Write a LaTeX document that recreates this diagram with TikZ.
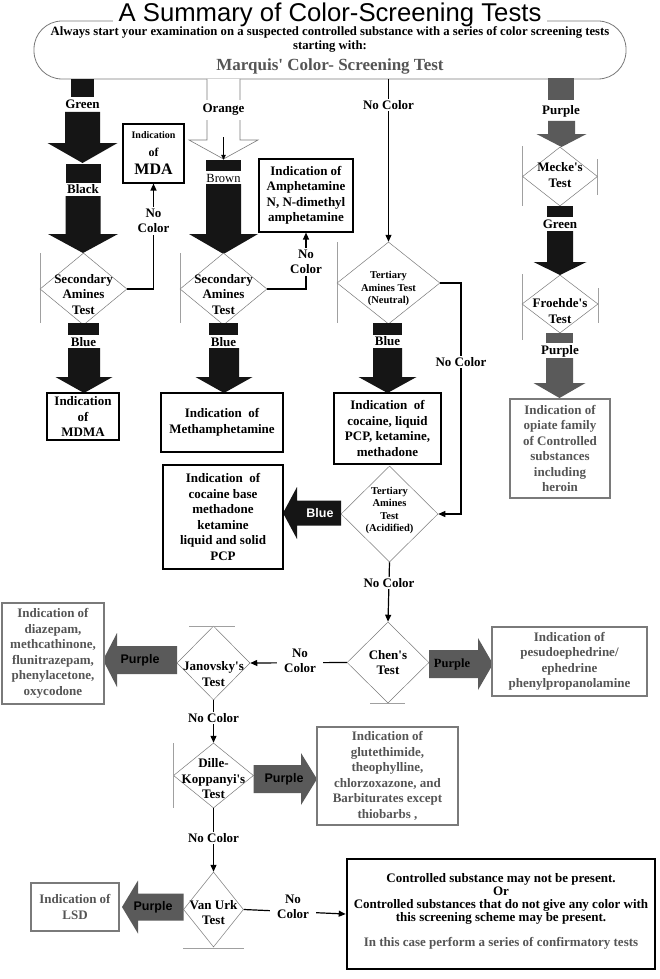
\documentclass[tikz,border=0pt]{standalone}
\usepackage{fontspec}
\setmainfont{Liberation Serif}
\newfontfamily\arialfont{Liberation Sans}
\newfontfamily\apfont{Liberation Serif}
\newcommand\ap{{\apfont'}}
\usetikzlibrary{shapes.geometric,arrows.meta}
\definecolor{dk}{HTML}{151515}
\definecolor{pg}{HTML}{5A5A5A}
\definecolor{gt}{HTML}{555555}
\definecolor{ln}{HTML}{7A7A7A}
\definecolor{sd}{HTML}{A0A0A0}
% block arrow pointing down: style, x, ytop, yheadbase, ytip, half shaft, half head
\newcommand\blkdown[7]{\fill[#1] ({#2-#6},#3) -- ({#2+#6},#3) -- ({#2+#6},#4) -- ({#2+#7},#4) -- (#2,#5) -- ({#2-#7},#4) -- ({#2-#6},#4) -- cycle;}
% block arrow horizontal: style, y, xtail, xheadbase, xtip, half shaft, half head
\newcommand\blkh[7]{\fill[#1] (#3,{#2-#6}) -- (#4,{#2-#6}) -- (#4,{#2-#7}) -- (#5,#2) -- (#4,{#2+#7}) -- (#4,{#2+#6}) -- (#3,{#2+#6}) -- cycle;}
\begin{document}
\begin{tikzpicture}[x=1pt,y=-1pt,
  lbl/.style={font=\bfseries\fontsize{13}{14.5}\selectfont, inner sep=1.5pt, fill=white},
  bx/.style={draw, line width=1.1pt, align=center, inner sep=0pt, font=\bfseries\fontsize{13}{15.5}\selectfont},
  gbx/.style={bx, draw=ln, line width=1.3pt, text=gt},
  dia/.style={diamond, draw=ln, line width=0.5pt, inner sep=0pt, fill=white},
  dtx/.style={align=center, inner sep=0pt, font=\bfseries\fontsize{13}{15.5}\selectfont},
  dtxs/.style={align=center, inner sep=0pt, font=\bfseries\fontsize{10.5}{12.5}\selectfont},
  side/.style={draw=sd, line width=0.5pt},
  conn/.style={draw, line width=1.2pt, -{Triangle[length=7pt,width=6pt]}},
  sanslbl/.style={font=\arialfont\bfseries\fontsize{12.5}{14}\selectfont, inner sep=0pt}
]
\useasboundingbox (0,0) rectangle (660,979);
\fill[white] (0,0) rectangle (660,979);

% ---------- top ----------
\node[draw=ln, line width=0.8pt, rounded corners=28pt, minimum width=592pt, minimum height=58pt] (top) at (330,50) {};
\node[fill=white, inner xsep=6pt, inner ysep=0pt, text height=18.5pt, text depth=1.5pt, anchor=base, font=\arialfont\fontsize{25.7}{28}\selectfont] (title) at (330,21.5) {A Summary of Color-Screening Tests};
\node[font=\bfseries\fontsize{12.7}{14}\selectfont, inner sep=0pt] (intro1) at (330,32.5) {Always start your examination on a suspected controlled substance with a series of color screening tests};
\node[font=\bfseries\fontsize{12.7}{14}\selectfont, inner sep=0pt] (intro2) at (330,46) {starting with:};
\node[font=\bfseries\fontsize{17}{20}\selectfont, text=gt, inner sep=0pt] (marq) at (330,66) {Marquis\ap{} Color- Screening Test};

% ---------- column 1 ----------
\fill[dk] (71,79) rectangle (94,97);
\node[lbl] (lg1) at (82.5,104) {Green};
\blkdown{dk}{82.5}{112}{143}{163}{17.5}{35}
\fill[dk] (66,164) rectangle (101,183);
\node[lbl] (lb1) at (83,189) {Black};
\blkdown{dk}{83}{196}{234}{253}{17.5}{35}
\draw[side] (40,253) -- (40,323);
\node[dia, minimum width=87pt, minimum height=72pt] (d1) at (83.5,289) {};
\node[dtx] (t1) at (83.5,294.5) {Secondary\\Amines\\Test};
\node[bx, minimum width=61pt, minimum height=59pt] (mda) at (153.5,153.5) {};
\node[font=\bfseries\fontsize{10}{12}\selectfont, inner sep=0pt] (mda1) at (153.5,135) {Indication};
\node[font=\bfseries\fontsize{12}{14}\selectfont, inner sep=0pt] (mda2) at (153.5,152) {of};
\node[font=\bfseries\fontsize{16}{18}\selectfont, inner sep=0pt] (mda3) at (153.5,169.5) {MDA};
\draw[conn] (d1.east) -| (mda.south);
\node[lbl, align=center, inner ysep=2pt] (nc1) at (153.5,221) {No\\Color};
\fill[dk] (68,323) rectangle (99,335);
\node[lbl] (lbl1) at (83.5,342) {Blue};
\blkdown{dk}{84}{348}{377}{393}{16}{28.5}
\node[bx, minimum width=72pt, minimum height=47pt] (mdma) at (83,416.5) {Indication\\of\\MDMA};

% ---------- column 2 ----------
\draw[ln, line width=0.6pt, fill=white] (207,79) -- (207,140) -- (189,140) -- (223.5,159) -- (258,140) -- (240,140) -- (240,79);
\node[lbl, inner ysep=4pt] (lo) at (223.5,110) {Orange};
\coordinate (oa) at (223.5,137);
\node[fill=dk, minimum width=35pt, minimum height=11pt, inner sep=0pt] (br) at (223.5,165.5) {};
\draw[line width=0.8pt, -{Triangle[length=5pt,width=4.5pt]}] (oa) -- (br.north);
\node[font=\fontsize{12.5}{14}\selectfont, inner sep=1pt] (lbr) at (223.5,178) {Brown};
\blkdown{dk}{223.5}{184}{234}{254}{17.5}{34.5}
\draw[side] (180,253) -- (180,323);
\node[dia, minimum width=87pt, minimum height=72pt] (d2) at (223.5,289) {};
\node[dtx] (t2) at (223.5,294.5) {Secondary\\Amines\\Test};
\node[bx, minimum width=94pt, minimum height=73pt] (amph) at (306,195.5) {Indication of\\Amphetamine\\N, N-dimethyl\\amphetamine};
\draw[conn] (d2.east) -| (amph.south);
\node[lbl, align=center, inner ysep=2pt] (nc2) at (306,262) {No\\Color};
\fill[dk] (209,323) rectangle (238,335);
\node[lbl] (lbl2) at (223.5,342) {Blue};
\blkdown{dk}{224}{348}{377}{393}{15}{28.5}
\node[bx, minimum width=122pt, minimum height=59pt] (meth) at (222,422.5) {Indication\ \ of\\Methamphetamine};

% ---------- column 3 ----------
\draw[side] (337,242) -- (337,323);
\node[dia, minimum width=103pt, minimum height=82pt] (d3) at (388.5,283) {};
\node[dtxs] (t3) at (388.5,288.5) {Tertiary\\Amines Test\\(Neutral)};
\draw[conn] (d3.north |- top.south) -- (d3.north);
\node[lbl] (nc3) at (388.5,105) {No Color};
\fill[dk] (373,323) rectangle (402,335);
\node[lbl] (lbl3) at (387.5,341) {Blue};
\blkdown{dk}{387.5}{348}{377}{393}{14.5}{29}
\node[bx, minimum width=107pt, minimum height=71pt] (coc) at (387.5,428.5) {Indication\ \ of\\cocaine, liquid\\PCP, ketamine,\\methadone};
\node[dia, minimum width=97pt, minimum height=96pt] (d4) at (389.5,514) {};
\node[dtxs] (t4) at (389.5,510.5) {Tertiary\\Amines\\Test\\(Acidified)};
\coordinate (c3) at (461,283);
\draw[conn] (d3.east) -- (c3) |- (d4.east);
\node[lbl] (nc4) at (461,362) {No Color};
\blkh{dk}{513}{341}{297}{283}{12.5}{26}
\node[sanslbl, text=white] (lblue) at (320,513) {Blue};
\node[bx, minimum width=120pt, minimum height=104pt] (cocb) at (223,517) {Indication\ \ of\\cocaine base\\methadone\\ketamine\\liquid and solid\\PCP};

% ---------- Chen ----------
\node[dia, minimum width=82pt, minimum height=81pt] (d5) at (388,662.5) {};
\draw[side] (370,703) -- (405,703);
\node[dtx] (t5) at (388,662.5) {Chen\ap{}s\\Test};
\draw[conn] (d4.south) -- (d5.north);
\node[lbl] (nc5) at (389,583) {No Color};
\blkh{pg}{664}{429}{478}{493}{14}{26}
\node[font=\bfseries\fontsize{12.5}{14}\selectfont, inner sep=0pt] (lp5) at (452,664) {Purple};
\node[gbx, minimum width=155pt, minimum height=69pt] (pse) at (569.5,661.5) {Indication of\\pesudoephedrine/\\ephedrine\\phenylpropanolamine};

% ---------- Janovsky ----------
\node[dia, minimum width=73pt, minimum height=74pt] (d6) at (213.5,663) {};
\draw[side] (189,626) -- (235,626);
\node[dtx] (t6) at (213.5,674) {Janovsky\ap{}s\\Test};
\draw[conn] (d5.west) -- (d6.east);
\node[lbl, align=center, inner xsep=7pt] (nc6) at (300,661) {No\\Color};
\blkh{pg}{660}{177}{117}{103}{14}{27}
\node[sanslbl] (lp6) at (140,660) {Purple};
\node[gbx, minimum width=102pt, minimum height=101pt] (diaz) at (53,653.5) {Indication of\\diazepam,\\methcathinone,\\flunitrazepam,\\phenylacetone,\\oxycodone};

% ---------- Dille-Koppanyi ----------
\node[dia, minimum width=80pt, minimum height=65pt] (d7) at (213.5,775.5) {};
\draw[side] (173.5,743) -- (173.5,808);
\node[dtx] (t7) at (213.5,779) {Dille-\\Koppanyi\ap{}s\\Test};
\draw[conn] (d6.south) -- (d7.north);
\node[lbl] (nc7) at (213.5,718) {No Color};
\blkh{pg}{779}{253.5}{301}{317}{14}{26}
\node[sanslbl] (lp7) at (284,779) {Purple};
\node[gbx, minimum width=141pt, minimum height=98pt] (glu) at (387.5,776) {Indication of\\glutethimide,\\theophylline,\\chlorzoxazone, and\\Barbiturates except\\thiobarbs ,};

% ---------- Van Urk ----------
\node[dia, minimum width=60pt, minimum height=75pt] (d8) at (213.5,909.5) {};
\draw[side] (183,948) -- (244,948);
\node[dtx] (t8) at (213.5,912.5) {Van Urk\\Test};
\draw[conn] (d7.south) -- (d8.north);
\node[lbl] (nc8) at (213.5,838) {No Color};
\blkh{pg}{907}{183.5}{138}{122}{13.5}{26.5}
\node[sanslbl] (lp8) at (153,907) {Purple};
\node[gbx, minimum width=88pt, minimum height=48pt] (lsd) at (75,907) {Indication of\\LSD};
\node[draw, line width=2.6pt, minimum width=308pt, minimum height=110pt, inner sep=0pt] (fin) at (501,914) {};
\node[align=center, inner sep=0pt, font=\bfseries\fontsize{13}{13}\selectfont] (ftx) at (501,911) {Controlled substance may not be present.\\Or\\Controlled substances that do not give any color with\\this screening scheme may be present.\\[12pt]{\color{gt}In this case perform a series of confirmatory tests}};
\draw[conn] (d8.east) -- (fin.west);
\node[lbl, align=center, inner xsep=7pt] (nc9) at (293,907) {No\\Color};

% ---------- purple column ----------
\fill[pg] (548,78) rectangle (574,100);
\node[lbl] (lp1) at (561,111) {Purple};
\blkdown{pg}{561.5}{121}{134}{147}{13.5}{25}
\draw[side] (522,146) -- (522,206);
\draw[side] (597,159) -- (597,195);
\node[dia, minimum width=75pt, minimum height=59pt] (d9) at (560,176.5) {};
\node[dtx] (t9) at (560,175) {Mecke\ap{}s\\Test};
\fill[dk] (547,206) rectangle (573,217);
\node[lbl] (lg9) at (560,224) {Green};
\blkdown{dk}{560}{231}{262}{275}{13}{26.5}
\draw[side] (522,274) -- (522,340);
\draw[side] (598,288) -- (598,323);
\node[dia, minimum width=76pt, minimum height=58pt] (d10) at (560,304) {};
\node[dtx] (t10) at (560,311) {Froehde\ap{}s\\Test};
\fill[pg] (546,333) rectangle (573,343);
\node[lbl] (lp10) at (560,351) {Purple};
\blkdown{pg}{559.5}{358}{383}{398}{13.5}{26}
\node[gbx, minimum width=100pt, minimum height=99pt] (opi) at (560,448.5) {Indication of\\opiate family\\of Controlled\\substances\\including\\heroin};
\end{tikzpicture}
\end{document}
